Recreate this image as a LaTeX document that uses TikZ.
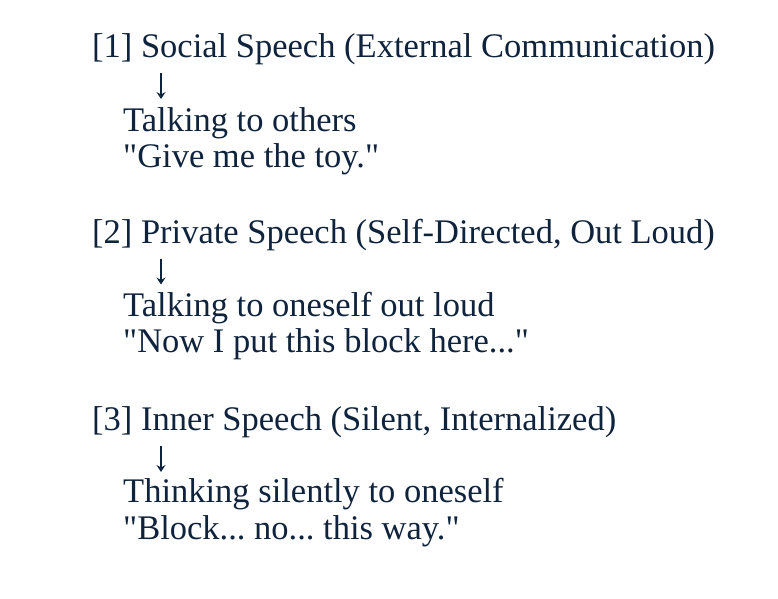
\documentclass[tikz,border=0pt]{standalone}
\usepackage{fontspec}
\setmainfont{Liberation Serif}
\usepackage{tikz}
\usetikzlibrary{arrows.meta}
\definecolor{inkblue}{HTML}{0F233D}
\frenchspacing

\begin{document}
\begin{tikzpicture}[x=1pt,y=-1pt,
    line/.style={anchor=base west,inner sep=0pt,text=inkblue,
      font=\fontsize{34.5}{40}\selectfont},
    flow/.style={draw=inkblue,line width=1.4pt,
      -{Stealth[length=7pt,width=9pt,inset=2.5pt]}}]
  \useasboundingbox (0,0) rectangle (778,598);
  % group 1
  \node[line] (t1) at (92,57.5) {[1] Social Speech (External Communication)};
  \coordinate (a1) at (161,73);
  \coordinate (b1) at (161,99);
  \draw[flow] (a1) -- (b1);
  \node[line] (s1) at (123,131) {Talking to others};
  \node[line] (q1) at (123,167.5) {\textquotedbl Give me the toy.\textquotedbl};
  % group 2
  \node[line] (t2) at (92,243) {[2] Private Speech (Self-Directed, Out Loud)};
  \coordinate (a2) at (161,258.5);
  \coordinate (b2) at (161,284.5);
  \draw[flow] (a2) -- (b2);
  \node[line] (s2) at (123,316) {Talking to oneself out loud};
  \node[line] (q2) at (123,352.5) {\textquotedbl Now I put this block here...\textquotedbl};
  % group 3
  \node[line] (t3) at (92,430) {[3] Inner Speech (Silent, Internalized)};
  \coordinate (a3) at (161,446);
  \coordinate (b3) at (161,472);
  \draw[flow] (a3) -- (b3);
  \node[line] (s3) at (123,502) {Thinking silently to oneself};
  \node[line] (q3) at (123,539) {\textquotedbl Block... no... this way.\textquotedbl};
\end{tikzpicture}
\end{document}
